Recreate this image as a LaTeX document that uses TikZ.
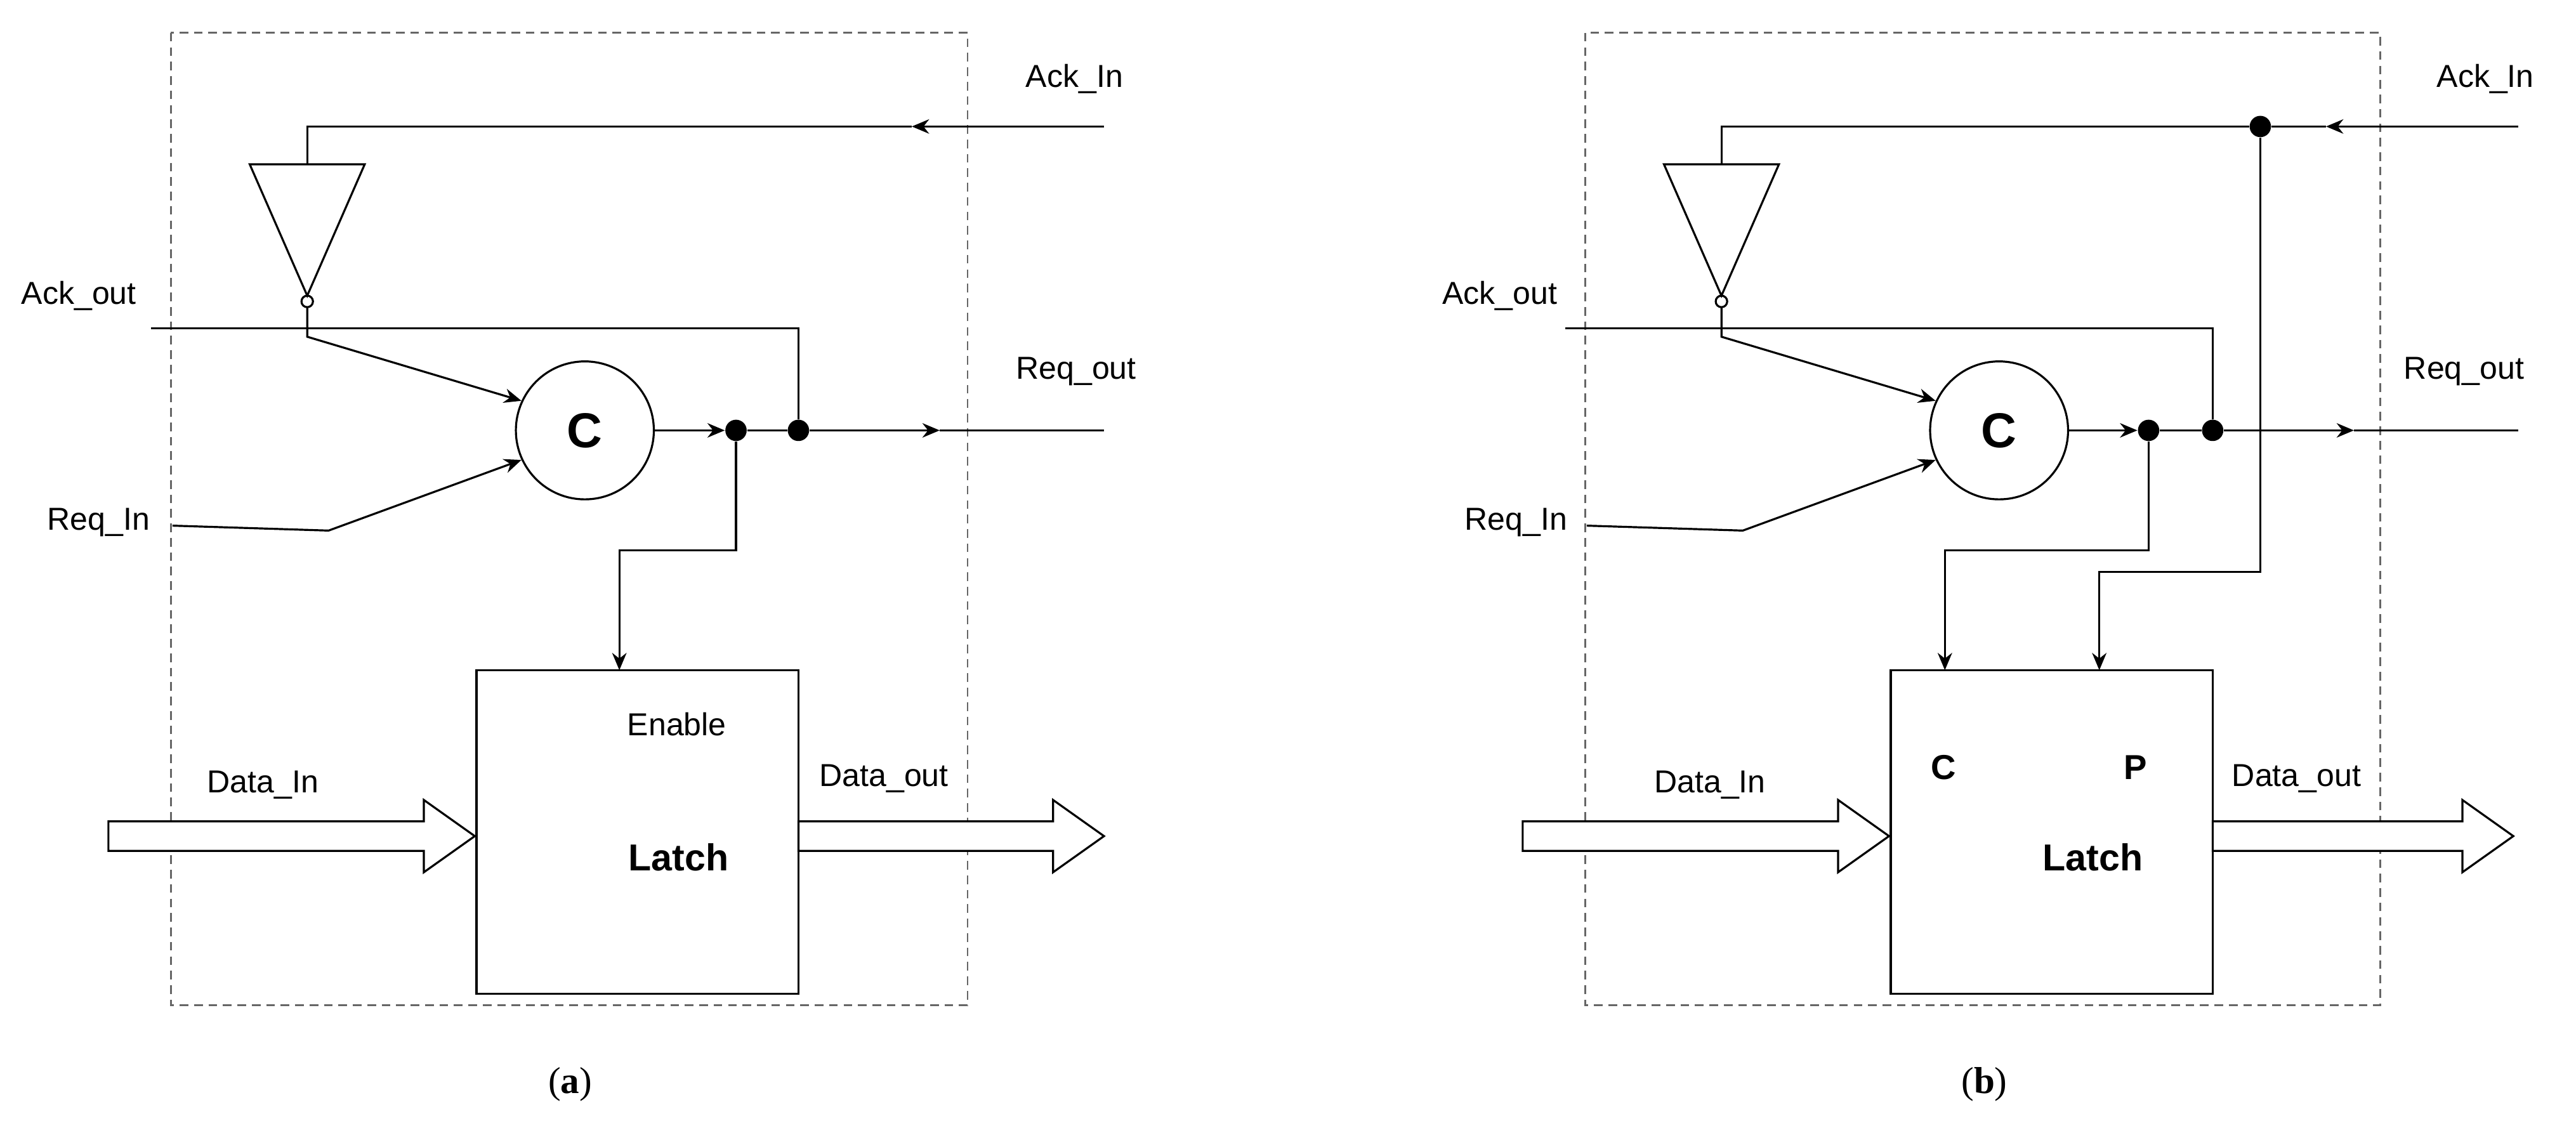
\documentclass[tikz,border=0pt]{standalone}
\usepackage{fontspec}
\setmainfont{Liberation Sans}
\newfontfamily\capfont{Liberation Serif}
\usetikzlibrary{arrows.meta}
\tikzset{
  wire/.style={line width=0.7pt},
  sig/.style={wire, -{Stealth[length=6pt,width=5pt]}},
  frame/.style={densely dashed, line width=0.6pt, gray!80!black},
  celem/.style={circle, draw, line width=0.7pt, minimum size=1.68cm, inner sep=0pt, font=\fontsize{17}{17}\selectfont\bfseries},
  latch/.style={rectangle, draw, line width=0.7pt, minimum width=3.92cm, minimum height=3.94cm, inner sep=0pt},
  dot/.style={circle, fill, inner sep=0pt, minimum size=0.26cm},
  lbl/.style={font=\fontsize{11}{11}\selectfont},
  fat/.style={draw, line width=0.7pt, fill=white}
}
\newcommand{\fatarrow}[3]{% from x #1 to x #2 at y #3
  \draw[fat] (#1,#3-9) -- (#2-31,#3-9) -- (#2-31,#3-22) -- (#2,#3) -- (#2-31,#3+22) -- (#2-31,#3+9) -- (#1,#3+9) -- cycle;}
\begin{document}
\begin{tikzpicture}[x=0.02cm, y=-0.02cm]
\useasboundingbox (0,0) rectangle (1568,694);
% ---------- panel (a) ----------
\begin{scope}
  \draw[frame] (104,20) rectangle (589,612);
  \node[celem] (aC) at (356,262) {C};
  \node[latch] (aL) at (388,506.5) {};
  \node[lbl] (aEn) at (412,441) {Enable};
  \node[font=\fontsize{13}{13}\selectfont\bfseries] (aLt) at (413,522) {Latch};
  \node[dot] (aD1) at (448,262) {};
  \node[dot] (aD2) at (486,262) {};
  \coordinate (aAckIn) at (672,77);
  \coordinate (aAckM) at (555,77);
  \coordinate (aReqM) at (572,262);
  \coordinate (aReqOut) at (672,262);
  % buffer
  \draw[wire] (152,100) -- (222,100) -- (187,180) -- cycle;
  \draw[wire] (187,183.5) circle (0.07cm);
  \draw[sig] (aAckIn) -- (aAckM);
  \draw[wire] (aAckM) -| (187,100);
  \draw[wire] (92,200) -| (aD2);
  \draw[sig] (187,187) -- (187,205) -- (aC.155);
  \draw[sig] (105,320) -- (200,323) -- (aC.205);
  \draw[sig] (aC.east) -- (aD1.west);
  \draw[wire] (aD1) -- (aD2);
  \draw[sig] (aD2) -- (aReqM);
  \draw[wire] (aReqM) -- (aReqOut);
  \draw[sig] (aD1) |- (377,335) -- (377,408);
  \fatarrow{66}{289}{509}
  \fatarrow{486}{672}{509}
  \node[lbl] (aLAi) at (654,48) {Ack\_In};
  \node[lbl] (aLAo) at (48,180) {Ack\_out};
  \node[lbl] (aLRo) at (655,226) {Req\_out};
  \node[lbl] (aLRi) at (60,318) {Req\_In};
  \node[lbl] (aLDi) at (160,478) {Data\_In};
  \node[lbl] (aLDo) at (538,474) {Data\_out};
  \node[font=\capfont\fontsize{13}{13}\selectfont] (aCap) at (347,660) {(\textbf{a})};
\end{scope}
% ---------- panel (b) ----------
\begin{scope}[xshift=17.22cm]
  \draw[frame] (104,20) rectangle (588,612);
  \node[celem] (bC) at (356,262) {C};
  \node[latch] (bL) at (388,506.5) {};
  \node[lbl, font=\fontsize{12}{12}\selectfont\bfseries] (bLc) at (322,467) {C};
  \node[lbl, font=\fontsize{12}{12}\selectfont\bfseries] (bLp) at (439,467) {P};
  \node[font=\fontsize{13}{13}\selectfont\bfseries] (bLt) at (413,522) {Latch};
  \node[dot] (bD1) at (447,262) {};
  \node[dot] (bD2) at (486,262) {};
  \node[dot] (bD3) at (515,77) {};
  \coordinate (bAckIn) at (672,77);
  \coordinate (bAckM) at (555,77);
  \coordinate (bReqM) at (572,262);
  \coordinate (bReqOut) at (672,262);
  % buffer
  \draw[wire] (152,100) -- (222,100) -- (187,180) -- cycle;
  \draw[wire] (187,183.5) circle (0.07cm);
  \draw[sig] (bAckIn) -- (bAckM);
  \draw[wire] (bAckM) -- (bD3);
  \draw[wire] (bD3) -| (187,100);
  \draw[wire] (92,200) -| (bD2);
  \draw[sig] (187,187) -- (187,205) -- (bC.155);
  \draw[sig] (105,320) -- (200,323) -- (bC.205);
  \draw[sig] (bC.east) -- (bD1.west);
  \draw[wire] (bD1) -- (bD2);
  \draw[sig] (bD2) -- (bReqM);
  \draw[wire] (bReqM) -- (bReqOut);
  \draw[sig] (bD1) |- (323,335) -- (323,408);
  \draw[sig] (bD3) |- (417,348) -- (417,408);
  \fatarrow{66}{289}{509}
  \fatarrow{486}{669}{509}
  \node[lbl] (bLAi) at (652,48) {Ack\_In};
  \node[lbl] (bLAo) at (52,180) {Ack\_out};
  \node[lbl] (bLRo) at (639,226) {Req\_out};
  \node[lbl] (bLRi) at (62,318) {Req\_In};
  \node[lbl] (bLDi) at (180,478) {Data\_In};
  \node[lbl] (bLDo) at (537,474) {Data\_out};
  \node[font=\capfont\fontsize{13}{13}\selectfont] (bCap) at (347,660) {(\textbf{b})};
\end{scope}
\end{tikzpicture}
\end{document}
